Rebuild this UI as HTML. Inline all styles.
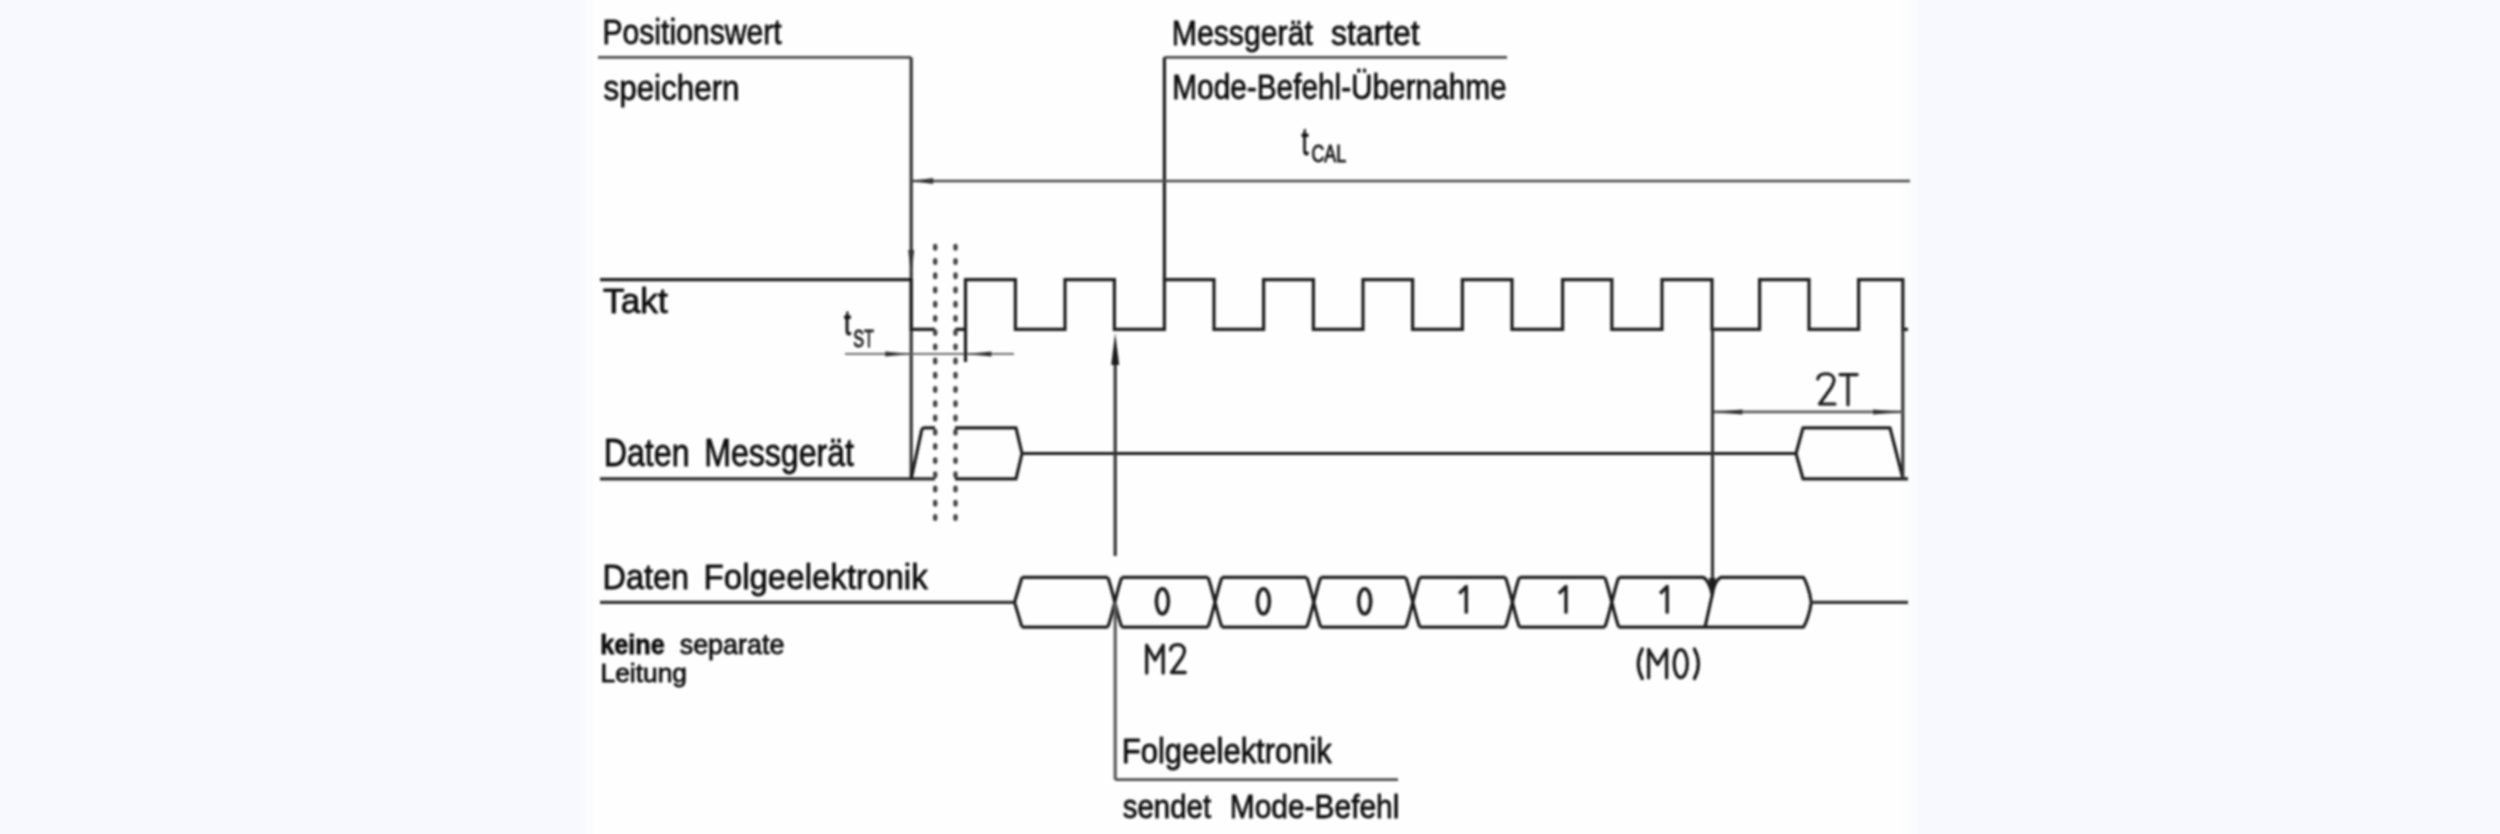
<!DOCTYPE html>
<html><head><meta charset="utf-8"><style>
html,body{margin:0;padding:0;width:2500px;height:834px;overflow:hidden;background:#f8f9fe}
svg{display:block}
text{font-family:"Liberation Sans",sans-serif}
</style></head><body>
<svg width="2500" height="834" viewBox="0 0 2500 834">
<defs>

<filter id="bl" x="-1%" y="-1%" width="102%" height="102%"><feGaussianBlur stdDeviation="0.9"/></filter>
</defs>
<rect x="0" y="0" width="2500" height="834" fill="#f8f9fe"/>
<rect x="582" y="0" width="4" height="834" fill="#f9faff"/>
<rect x="586" y="0" width="7" height="834" fill="#fbfcfe"/>
<rect x="593" y="0" width="1307" height="834" fill="#fefefe"/>
<rect x="1900" y="0" width="6" height="834" fill="#fdfdfe"/>
<rect x="1906" y="0" width="6" height="834" fill="#fbfcfe"/>
<rect x="1912" y="0" width="6" height="834" fill="#fafbfe"/>
<g filter="url(#bl)">
<g stroke-linejoin="miter">
<path d="M598 57.4 H911.2" stroke="#4c4c4c" stroke-width="2.8" fill="none" />
<path d="M911.2 57.4 V478.9" stroke="#333333" stroke-width="3.2" fill="none" />
<path d="M1507 57.4 H1164.4" stroke="#4c4c4c" stroke-width="2.8" fill="none" />
<path d="M1164.4 57.4 V279.7" stroke="#1e1e1e" stroke-width="3.2" fill="none" />
<path d="M911.2 181 H1910" stroke="#484848" stroke-width="2.6" fill="none" />
<path d="M600 279.7 H911.2 V329.3 H935" stroke="#1e1e1e" stroke-width="3.2" fill="none" />
<path d="M955 329.3 H965.5 V279.7 H1015.4 V329.3 H1065.0 V279.7 H1114.4 V329.3 H1164.4 V279.7 H1214.0 V329.3 H1263.6 V279.7 H1313.4 V329.3 H1363.0 V279.7 H1412.6 V329.3 H1462.4 V279.7 H1512.0 V329.3 H1562.6 V279.7 H1611.8 V329.3 H1662.0 V279.7 H1712.0 V329.3 H1759.6 V279.7 H1809.0 V329.3 H1858.6 V279.7 H1902.8 V329.3 H1908" stroke="#1e1e1e" stroke-width="3.2" fill="none" />
<path d="M935.2 246.05 V519" stroke="#444444" stroke-width="4.4" fill="none" stroke-dasharray="2.5 11.72" stroke-linecap="round"/>
<path d="M955.5 246.05 V519" stroke="#444444" stroke-width="4.4" fill="none" stroke-dasharray="2.5 11.72" stroke-linecap="round"/>
<path d="M845 353.9 H1014" stroke="#5c5c5c" stroke-width="1.8" fill="none" />
<path d="M965.5 329.3 V362" stroke="#1e1e1e" stroke-width="3.2" fill="none" />
<path d="M600 478.8 H935" stroke="#2a2a2a" stroke-width="3.2" fill="none" />
<path d="M911.2 478.8 L921.6 430.4 Q922.3 427.9 924.8 427.9 H935" stroke="#1e1e1e" stroke-width="3.2" fill="none" stroke-linejoin="round"/>
<path d="M955 427.9 H1016 L1022 453.5 L1016 478.8 H955" stroke="#1e1e1e" stroke-width="3.2" fill="none" stroke-linejoin="round"/>
<path d="M1022 453.5 H1796" stroke="#1e1e1e" stroke-width="3.2" fill="none" />
<path d="M1796 453.5 L1803 427.9 H1890 L1903 478.8 H1803 Z" stroke="#1e1e1e" stroke-width="3.2" fill="none" stroke-linejoin="round"/>
<path d="M1903 478.8 H1908" stroke="#1e1e1e" stroke-width="3.2" fill="none" />
<path d="M1902.8 329.3 V478.8" stroke="#333333" stroke-width="3.2" fill="none" />
<path d="M1712.5 411.9 H1903" stroke="#5c5c5c" stroke-width="2.6" fill="none" />
<path d="M1712.5 329.3 V594" stroke="#333333" stroke-width="3.2" fill="none" />
<path d="M600 602.3 H1014.5" stroke="#333333" stroke-width="3.2" fill="none" />
<path d="M1022 577.3 L1014.5 602.3 L1022 627.1" stroke="#1e1e1e" stroke-width="3.2" fill="none" stroke-linejoin="round"/>
<path d="M1022 577.3 H1107.8 M1022 627.1 H1107.8" stroke="#1e1e1e" stroke-width="3.2" fill="none" />
<path d="M1107.8 577.3 C1112.3 588.3 1117.3 616.1 1121.8 627.1 M1107.8 627.1 C1112.3 616.1 1117.3 588.3 1121.8 577.3" stroke="#1e1e1e" stroke-width="3.2" fill="none" stroke-linejoin="round"/>
<path d="M1121.8 577.3 H1208.0 M1121.8 627.1 H1208.0" stroke="#1e1e1e" stroke-width="3.2" fill="none" />
<path d="M1208.0 577.3 C1212.5 588.3 1217.5 616.1 1222.0 627.1 M1208.0 627.1 C1212.5 616.1 1217.5 588.3 1222.0 577.3" stroke="#1e1e1e" stroke-width="3.2" fill="none" stroke-linejoin="round"/>
<path d="M1222.0 577.3 H1306.8 M1222.0 627.1 H1306.8" stroke="#1e1e1e" stroke-width="3.2" fill="none" />
<path d="M1306.8 577.3 C1311.3 588.3 1316.3 616.1 1320.8 627.1 M1306.8 627.1 C1311.3 616.1 1316.3 588.3 1320.8 577.3" stroke="#1e1e1e" stroke-width="3.2" fill="none" stroke-linejoin="round"/>
<path d="M1320.8 577.3 H1405.8 M1320.8 627.1 H1405.8" stroke="#1e1e1e" stroke-width="3.2" fill="none" />
<path d="M1405.8 577.3 C1410.3 588.3 1415.3 616.1 1419.8 627.1 M1405.8 627.1 C1410.3 616.1 1415.3 588.3 1419.8 577.3" stroke="#1e1e1e" stroke-width="3.2" fill="none" stroke-linejoin="round"/>
<path d="M1419.8 577.3 H1505.4 M1419.8 627.1 H1505.4" stroke="#1e1e1e" stroke-width="3.2" fill="none" />
<path d="M1505.4 577.3 C1509.9 588.3 1514.9 616.1 1519.4 627.1 M1505.4 627.1 C1509.9 616.1 1514.9 588.3 1519.4 577.3" stroke="#1e1e1e" stroke-width="3.2" fill="none" stroke-linejoin="round"/>
<path d="M1519.4 577.3 H1604.8 M1519.4 627.1 H1604.8" stroke="#1e1e1e" stroke-width="3.2" fill="none" />
<path d="M1604.8 577.3 C1609.3 588.3 1614.3 616.1 1618.8 627.1 M1604.8 627.1 C1609.3 616.1 1614.3 588.3 1618.8 577.3" stroke="#1e1e1e" stroke-width="3.2" fill="none" stroke-linejoin="round"/>
<path d="M1618.8 577.3 H1703 C1707.5 579.3 1711 587.3 1712.2 595 C1713.4 587.3 1716.5 579.3 1721 577.3 H1803.4 C1805.5 580.3 1810 591.3 1811.2 602.3 C1810 613.3 1805.5 624.1 1803.4 627.1 H1618.8" stroke="#1e1e1e" stroke-width="3.2" fill="none" stroke-linejoin="round"/>
<path d="M1712.2 595 L1705 627.1" stroke="#1e1e1e" stroke-width="3.2" fill="none" />
<path d="M1811.2 602.3 H1908" stroke="#333333" stroke-width="3.2" fill="none" />
<path d="M1115.2 363 V556" stroke="#333333" stroke-width="3.2" fill="none" />
<path d="M1115.2 602.3 V779.7" stroke="#5a5a5a" stroke-width="3.2" fill="none" />
<path d="M1115.2 779.7 H1398" stroke="#4c4c4c" stroke-width="2.8" fill="none" />
<path d="M1146.7 673 V645.2 L1155 660 L1163.2 645.2 V673" stroke="#1a1a1a" stroke-width="3.3" fill="none" stroke-linejoin="round" stroke-linecap="round"/>
<path d="M1170.6 650 C1171 646 1174 644.6 1177.5 644.6 C1182 644.6 1184.5 647.5 1184.5 651 C1184.5 654 1183 656 1181.5 658.5 L1171.5 672.5 H1185.2" stroke="#1a1a1a" stroke-width="3.3" fill="none" stroke-linejoin="round" stroke-linecap="round"/>
<path d="M1642.3 649 Q1634.3 663.7 1642.3 678.6" stroke="#1a1a1a" stroke-width="3.3" fill="none" stroke-linejoin="round" stroke-linecap="round"/>
<path d="M1648.6 677.8 V649.5 L1657.6 664.5 L1666.6 649.5 V677.8" stroke="#1a1a1a" stroke-width="3.3" fill="none" stroke-linejoin="round" stroke-linecap="round"/>
<ellipse cx="1680.75" cy="663.6" rx="6.6" ry="14.0" stroke="#1a1a1a" stroke-width="3.3" fill="none"/>
<path d="M1694.4 649 Q1702.4 663.7 1694.4 678.6" stroke="#1a1a1a" stroke-width="3.3" fill="none" stroke-linejoin="round" stroke-linecap="round"/>
<path d="M1817.8 379 C1818.5 374.5 1823 373.8 1826 373.8 C1831 373.8 1834 376.5 1834 380 C1834 383 1832.5 385.5 1831 388 L1819.5 404 H1835" stroke="#1a1a1a" stroke-width="3.1" fill="none" stroke-linejoin="round" stroke-linecap="round"/>
<path d="M1840 374.6 H1857.2 M1848 374.6 V404.8" stroke="#1a1a1a" stroke-width="3.1" fill="none" stroke-linejoin="round" stroke-linecap="round"/>
<ellipse cx="1162.4" cy="601.3" rx="6.0" ry="12.5" stroke="#1c1c1c" stroke-width="3.6" fill="none"/>
<ellipse cx="1263.4" cy="601.3" rx="6.0" ry="12.5" stroke="#1c1c1c" stroke-width="3.6" fill="none"/>
<ellipse cx="1364.7" cy="601.3" rx="6.0" ry="12.5" stroke="#1c1c1c" stroke-width="3.6" fill="none"/>
<path d="M1466.3 613.5 V586.5 L1459.3 593.5" stroke="#1c1c1c" stroke-width="3.4" fill="none" stroke-linejoin="round"/>
<path d="M1566.0 613.5 V586.5 L1559.0 593.5" stroke="#1c1c1c" stroke-width="3.4" fill="none" stroke-linejoin="round"/>
<path d="M1667.2 613.5 V586.5 L1660.2 593.5" stroke="#1c1c1c" stroke-width="3.4" fill="none" stroke-linejoin="round"/>
<polygon points="911.2,181.0 933.2,178.0 933.2,184.0" fill="#333333"/>
<polygon points="911.2,276.0 908.2,250.0 914.2,250.0" fill="#333333"/>
<polygon points="911.2,353.9 885.2,356.4 885.2,351.4" fill="#333333"/>
<polygon points="965.5,353.9 991.5,351.4 991.5,356.4" fill="#333333"/>
<polygon points="1115.2,333.0 1119.2,365.0 1111.2,365.0" fill="#1e1e1e"/>
<polygon points="1712.5,411.9 1742.5,409.4 1742.5,414.4" fill="#333333"/>
<polygon points="1903.0,411.9 1873.0,414.4 1873.0,409.4" fill="#333333"/>
<polygon points="1712.3,600.0 1708.8,578.0 1715.8,578.0" fill="#1e1e1e"/>
</g>
<g fill="#101010" stroke="#101010" stroke-width="0.8" stroke-linejoin="round">
<text transform="matrix(0.8544 0 0 1 602.39 44.40)" font-size="35.29">Positionswert</text>
<text transform="matrix(0.9033 0 0 1 603.56 99.50)" font-size="34.73">speichern</text>
<text transform="matrix(0.8792 0 0 1 1171.68 44.60)" font-size="34.42">Messgerät</text>
<text transform="matrix(0.9277 0 0 1 1331.04 44.60)" font-size="34.42">startet</text>
<text transform="matrix(0.8406 0 0 1 1172.32 99.30)" font-size="35.44">Mode-Befehl-Übernahme</text>
<text transform="matrix(0.6619 0 0 1 1301.62 155.10)" font-size="38.51">t</text>
<text transform="matrix(0.7230 0 0 1 1311.51 162.30)" font-size="24.61">CAL</text>
<text transform="matrix(1.0079 0 0 1 603.12 313.20)" font-size="35.00">Takt</text>
<text transform="matrix(0.7380 0 0 1 844.12 335.30)" font-size="34.54">t</text>
<text transform="matrix(0.6778 0 0 1 853.27 346.80)" font-size="23.90">ST</text>
<text transform="matrix(0.8453 0 0 1 603.73 465.70)" font-size="38.04">Daten</text>
<text transform="matrix(0.8425 0 0 1 704.34 465.70)" font-size="38.04">Messgerät</text>
<text transform="matrix(0.9180 0 0 1 602.61 588.80)" font-size="35.29">Daten</text>
<text transform="matrix(0.9368 0 0 1 703.56 588.80)" font-size="35.29">Folgeelektronik</text>
<text transform="matrix(0.8927 0 0 1 600.34 653.50)" font-size="28.24" font-weight="bold">keine</text>
<text transform="matrix(0.9540 0 0 1 679.69 653.50)" font-size="28.24">separate</text>
<text transform="matrix(0.9973 0 0 1 600.49 681.80)" font-size="26.45">Leitung</text>
<text transform="matrix(0.9002 0 0 1 1121.82 762.80)" font-size="34.42">Folgeelektronik</text>
<text transform="matrix(0.8765 0 0 1 1122.82 818.20)" font-size="33.55">sendet</text>
<text transform="matrix(0.8917 0 0 1 1229.81 818.20)" font-size="33.55">Mode-Befehl</text>
</g>
</g>
</svg>
</body></html>
